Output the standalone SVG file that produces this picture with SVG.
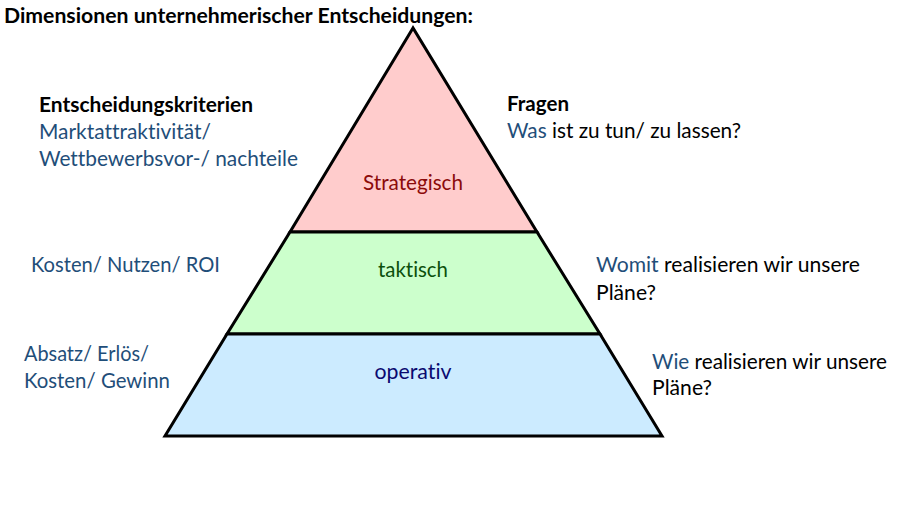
<svg xmlns="http://www.w3.org/2000/svg" width="906" height="520" viewBox="0 0 906 520">
<style>
text{font-family:Lato,"Open Sans","Liberation Sans",sans-serif;font-size:21px;font-variant-ligatures:none;}
.b{font-weight:bold;fill:#000;}
.blue{fill:#1F4E79;}
.blk{fill:#000;}
.layer{stroke:#000;stroke-width:3;stroke-linejoin:miter;}
</style>
<rect width="906" height="520" fill="#fff"/>
<text class="b" x="4" y="23" font-size="20" textLength="469" lengthAdjust="spacingAndGlyphs">Dimensionen unternehmerischer Entscheidungen:</text>
<g id="pyramid">
<g id="strategisch">
<polygon class="layer" points="413,28 290,232 537,232" fill="#FFCCCC"/>
<text x="413" y="190" text-anchor="middle" fill="#8B0A0A" textLength="100" lengthAdjust="spacingAndGlyphs">Strategisch</text>
</g>
<g id="taktisch">
<polygon class="layer" points="290,232 537,232 600,334 227,334" fill="#CCFFCC"/>
<text x="413" y="277" text-anchor="middle" fill="#0B4F0B" textLength="70" lengthAdjust="spacingAndGlyphs">taktisch</text>
</g>
<g id="operativ">
<polygon class="layer" points="227,334 600,334 662,436 165,436" fill="#CCEBFF"/>
<text x="413" y="379" text-anchor="middle" fill="#0A0A70" textLength="77" lengthAdjust="spacingAndGlyphs">operativ</text>
</g>
</g>
<g id="kriterien">
<text class="b" x="39" y="112" textLength="214" lengthAdjust="spacingAndGlyphs">Entscheidungskriterien</text>
<text class="blue" x="39" y="139" textLength="172" lengthAdjust="spacingAndGlyphs">Marktattraktivität/</text>
<text class="blue" x="39" y="166" textLength="259" lengthAdjust="spacingAndGlyphs">Wettbewerbsvor-/ nachteile</text>
<text class="blue" x="31" y="272" textLength="189" lengthAdjust="spacingAndGlyphs">Kosten/ Nutzen/ ROI</text>
<text class="blue" x="24" y="361" textLength="125" lengthAdjust="spacingAndGlyphs">Absatz/ Erlös/</text>
<text class="blue" x="24" y="388" textLength="146" lengthAdjust="spacingAndGlyphs">Kosten/ Gewinn</text>
</g>
<g id="fragen">
<text class="b" x="507" y="111" textLength="62" lengthAdjust="spacingAndGlyphs">Fragen</text>
<text x="507" y="138" textLength="234" lengthAdjust="spacingAndGlyphs"><tspan class="blue">Was</tspan><tspan class="blk"> ist zu tun/ zu lassen?</tspan></text>
<text x="596" y="272" textLength="264" lengthAdjust="spacingAndGlyphs"><tspan class="blue">Womit</tspan><tspan class="blk"> realisieren wir unsere</tspan></text>
<text class="blk" x="596" y="300" textLength="60" lengthAdjust="spacingAndGlyphs">Pläne?</text>
<text x="652" y="369" textLength="235" lengthAdjust="spacingAndGlyphs"><tspan class="blue">Wie</tspan><tspan class="blk"> realisieren wir unsere</tspan></text>
<text class="blk" x="652" y="395" textLength="60" lengthAdjust="spacingAndGlyphs">Pläne?</text>
</g>
<g id="connectors"></g>
</svg>
